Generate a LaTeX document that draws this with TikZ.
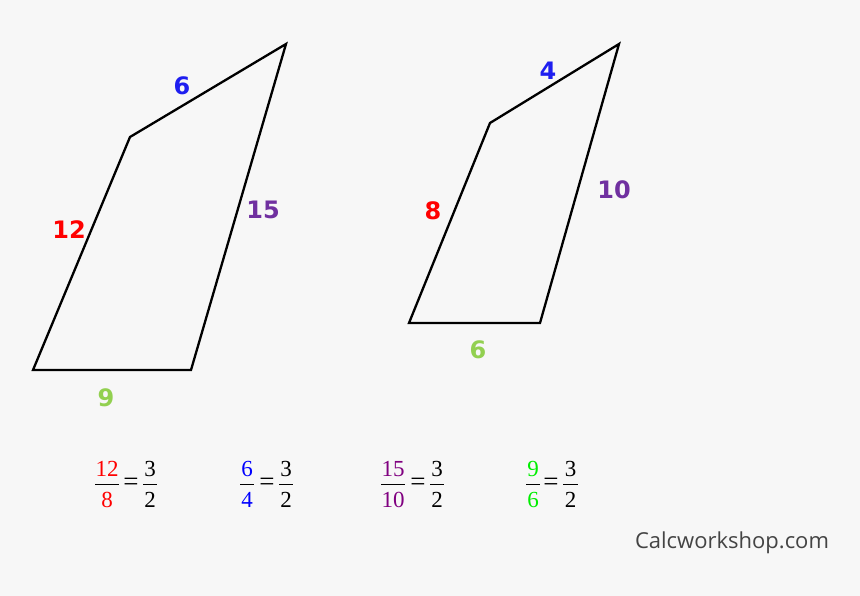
\documentclass[tikz,border=0pt]{standalone}
\usepackage{fontspec}
\setmainfont{Liberation Serif}
\newfontfamily\lblfont{DejaVu Sans}
\newfontfamily\wmfont{Open Sans}
\definecolor{bgc}{HTML}{F7F7F7}
\definecolor{lblblue}{HTML}{1E1EF0}
\definecolor{lblred}{HTML}{FF0000}
\definecolor{lblpurple}{HTML}{7030A0}
\definecolor{lblgreen}{HTML}{92D050}
\definecolor{frpurple}{HTML}{800080}
\definecolor{frgreen}{HTML}{00EE00}
\definecolor{wmgray}{HTML}{444444}
\begin{document}
\begin{tikzpicture}[x=1pt,y=-1pt,
  quad/.style={draw=black,line width=2.3pt,line join=miter},
  sidelbl/.style={font=\lblfont\bfseries\fontsize{24}{24}\selectfont,inner sep=0pt},
  frtxt/.style={font=\fontsize{23}{23}\selectfont,inner sep=0pt},
  freq/.style={font=\fontsize{27}{27}\selectfont,inner sep=0pt},
  frbar/.style={draw=black,line width=1pt}]
\fill[bgc] (0,0) rectangle (860,596);
\useasboundingbox (0,0) rectangle (860,596);
% left quadrilateral
\coordinate (LA) at (33,370);
\coordinate (LB) at (191,370);
\coordinate (LC) at (286,44);
\coordinate (LD) at (130,137);
\draw[quad] (LA) -- (LB) -- (LC) -- (LD) -- cycle;
% right quadrilateral
\coordinate (RA) at (409,323);
\coordinate (RB) at (540,323);
\coordinate (RC) at (619,44);
\coordinate (RD) at (490,123);
\draw[quad] (RA) -- (RB) -- (RC) -- (RD) -- cycle;
% side labels
\node[sidelbl,text=lblblue] (l6) at (182,86) {6};
\node[sidelbl,text=lblred] (l12) at (69,230) {12};
\node[sidelbl,text=lblpurple] (l15) at (263,210) {15};
\node[sidelbl,text=lblgreen] (l9) at (106,398) {9};
\node[sidelbl,text=lblblue] (r4) at (548,71) {4};
\node[sidelbl,text=lblred] (r8) at (433,211) {8};
\node[sidelbl,text=lblpurple] (r10) at (614,190) {10};
\node[sidelbl,text=lblgreen] (r6) at (478,350) {6};
% fraction 1
\node[frtxt,text=red] (f1n) at (107,469) {12};
\node[frtxt,text=red] (f1d) at (107,500) {8};
\draw[frbar] (95,484) -- (119,484);
\node[freq] (f1e) at (131,484) {=};
\node[frtxt] (f1a) at (150,469) {3};
\node[frtxt] (f1b) at (150,500) {2};
\draw[frbar] (143,484) -- (157,484);
% fraction 2
\node[frtxt,text=blue] (f2n) at (247,469) {6};
\node[frtxt,text=blue] (f2d) at (247,500) {4};
\draw[frbar] (240,484) -- (254,484);
\node[freq] (f2e) at (267,484) {=};
\node[frtxt] (f2a) at (286,469) {3};
\node[frtxt] (f2b) at (286,500) {2};
\draw[frbar] (279,484) -- (293,484);
% fraction 3
\node[frtxt,text=frpurple] (f3n) at (393,469) {15};
\node[frtxt,text=frpurple] (f3d) at (393,500) {10};
\draw[frbar] (381,484) -- (405,484);
\node[freq] (f3e) at (418,484) {=};
\node[frtxt] (f3a) at (437,469) {3};
\node[frtxt] (f3b) at (437,500) {2};
\draw[frbar] (430,484) -- (444,484);
% fraction 4
\node[frtxt,text=frgreen] (f4n) at (533,469) {9};
\node[frtxt,text=frgreen] (f4d) at (533,500) {6};
\draw[frbar] (526,484) -- (540,484);
\node[freq] (f4e) at (551,484) {=};
\node[frtxt] (f4a) at (570.5,469) {3};
\node[frtxt] (f4b) at (570.5,500) {2};
\draw[frbar] (563,484) -- (578,484);
% watermark
\node[font=\wmfont\fontsize{22}{22}\selectfont,text=wmgray,inner sep=0pt] (wm) at (732,543) {Calcworkshop.com};
\end{tikzpicture}
\end{document}
